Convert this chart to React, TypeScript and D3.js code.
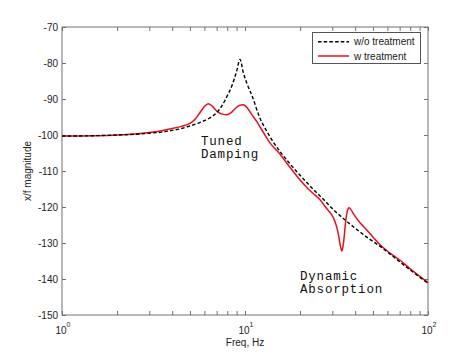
import React, { useEffect, useRef } from 'react';
import * as d3 from 'd3';

// without treatment (dashed black)
const woFreq = [1, 1.5, 2, 2.5, 3, 3.5, 4, 4.5, 5, 5.5, 6, 6.5, 7, 7.5, 8, 8.5, 9, 9.4,
  9.8, 10.3, 11, 12, 13, 14, 15.5, 17.6, 20, 23, 27, 30.5, 34.3, 40, 47, 55, 65, 80, 100];
const woMag = [-100.3, -100.2, -100.0, -99.8, -99.5, -99.2, -98.7, -98.2, -97.5, -96.8, -96.0, -95.1, -93.8, -91.8, -89.1, -86.2, -82.3, -79.0,
  -82.8, -86.0, -89.5, -95.0, -98.5, -101.3, -104.5, -108.0, -111.2, -114.5, -118.0, -120.8, -123.1, -125.9, -128.6, -131.0, -133.9, -137.5, -141.2];

// with treatment (solid red)
const wFreq = [1, 1.5, 2, 2.5, 3, 3.5, 4, 4.5, 5, 5.3, 5.67, 6.0, 6.29, 6.6, 7.0, 7.5, 7.94, 8.4, 8.82, 9.3, 9.77,
  10.3, 10.85, 11.6, 12.6, 13.7, 15.5, 17.5, 20, 21.7, 23.5, 25.7, 28, 30.4, 31.6, 32.5, 33.2, 33.8, 34.3, 34.8,
  35.4, 36.0, 36.6, 37.1, 38, 39.5, 42.4, 46.3, 50, 54.7, 62, 70.4, 80, 100];
const wMag = [-100.3, -100.2, -100.0, -99.7, -99.3, -98.8, -98.2, -97.6, -96.8, -95.8, -93.8, -92.1, -91.3, -91.9, -93.3, -94.2, -94.4, -93.8, -92.7, -91.8, -91.6,
  -92.5, -94.2, -96.3, -99.3, -102.2, -105.3, -108.8, -112.5, -114.5, -116.2, -118.0, -120.5, -123.0, -125.3, -128.0, -130.8, -132.2, -131.0, -128.5,
  -124.5, -121.8, -120.5, -120.2, -120.8, -122.2, -124.3, -126.4, -128.3, -130.5, -132.8, -134.8, -137.2, -141.0];

const yTicks = [-150, -140, -130, -120, -110, -100, -90, -80, -70];
const xMajor = [1, 10, 100];
const seriesNames = ['w/o treatment', 'w treatment'];

function FrfChart() {
  const svgRef = useRef<SVGSVGElement>(null);

  useEffect(() => {
    if (!svgRef.current) return;
    const svg = d3.select(svgRef.current);
    svg.selectAll('*').remove();

    const left = 62, right = 428, top = 27, bottom = 315;
    const axisColor = '#707070';
    const textColor = '#222';
    const sans = '"Liberation Sans", Arial, sans-serif';

    const x = d3.scaleLog().domain([1, 100]).range([left, right]);
    const y = d3.scaleLinear().domain([-150, -70]).range([bottom, top]);

    svg.append('rect').attr('width', 474).attr('height', 354).attr('fill', '#fff');

    // ticks on all four sides, pointing in
    const xt = x.ticks();
    const tickAxis = (g: any, axis: any) => {
      g.call(axis);
      g.select('.domain').remove();
      g.selectAll('.tick line').attr('stroke', axisColor);
    };
    svg.append('g').attr('transform', `translate(0,${bottom})`)
      .call(g => tickAxis(g, d3.axisBottom(x).tickValues(xt).tickSize(-4).tickFormat(() => '')));
    svg.append('g').attr('transform', `translate(0,${top})`)
      .call(g => tickAxis(g, d3.axisTop(x).tickValues(xt).tickSize(-4).tickFormat(() => '')));
    svg.append('g').attr('transform', `translate(${left},0)`)
      .call(g => tickAxis(g, d3.axisLeft(y).tickValues(yTicks).tickSize(-4).tickFormat(() => '')));
    svg.append('g').attr('transform', `translate(${right},0)`)
      .call(g => tickAxis(g, d3.axisRight(y).tickValues(yTicks).tickSize(-4).tickFormat(() => '')));

    svg.append('rect')
      .attr('x', left).attr('y', top)
      .attr('width', right - left).attr('height', bottom - top)
      .attr('fill', 'none').attr('stroke', axisColor).attr('stroke-width', 1);

    // tick labels
    svg.append('g').selectAll('text').data(yTicks).join('text')
      .attr('x', left - 4).attr('y', d => y(d)).attr('dy', '0.35em')
      .attr('text-anchor', 'end').attr('font-family', sans).attr('font-size', 10)
      .attr('fill', textColor).text(d => d);

    const xl = svg.append('g').selectAll('text').data(xMajor).join('text')
      .attr('x', d => x(d) + 1).attr('y', bottom + 18.5)
      .attr('text-anchor', 'middle').attr('font-family', sans).attr('font-size', 10)
      .attr('fill', textColor);
    xl.append('tspan').text('10');
    xl.append('tspan').attr('dy', -7).attr('font-size', 7).text(d => Math.round(Math.log10(d)));

    svg.append('text')
      .attr('x', (left + right) / 2).attr('y', 346)
      .attr('text-anchor', 'middle').attr('font-family', sans).attr('font-size', 10)
      .attr('fill', textColor).text('Freq, Hz');

    svg.append('text')
      .attr('transform', `translate(31,${(top + bottom) / 2}) rotate(-90)`)
      .attr('text-anchor', 'middle').attr('font-family', sans).attr('font-size', 10)
      .attr('fill', textColor).text('x/f magnitude');

    // curves
    const line = d3.line<[number, number]>()
      .x(d => x(d[0]))
      .y(d => y(d[1]))
      .curve(d3.curveMonotoneX);

    const woData = woFreq.map((f, i) => [f, woMag[i]] as [number, number]);
    const wData = wFreq.map((f, i) => [f, wMag[i]] as [number, number]);

    svg.append('path').datum(wData)
      .attr('fill', 'none').attr('stroke', '#e8101a').attr('stroke-width', 1.5)
      .attr('d', line);
    svg.append('path').datum(woData)
      .attr('fill', 'none').attr('stroke', '#000').attr('stroke-width', 1.4)
      .attr('stroke-dasharray', '3.5,2.2')
      .attr('d', line);

    // annotations, one text per line so they don't overlap
    const mono = '"Liberation Mono", "Courier New", monospace';
    const note = (lines: string[], nx: number, ny: number) => {
      lines.forEach((s, i) => svg.append('text')
        .attr('x', nx).attr('y', ny + i * 13.3)
        .attr('font-family', mono).attr('font-size', 12.5)
        .attr('letter-spacing', 0.8)
        .attr('fill', '#111').text(s));
    };
    note(['Tuned', 'Damping'], 201, 145);
    note(['Dynamic', 'Absorption'], 300, 279.5);

    // legend
    const lg = svg.append('g');
    lg.append('rect').attr('x', 312.5).attr('y', 32.5).attr('width', 108).attr('height', 31)
      .attr('fill', '#fff').attr('stroke', '#555');
    const legendY = [41.7, 56];
    lg.append('line').attr('x1', 318).attr('x2', 349).attr('y1', legendY[0]).attr('y2', legendY[0])
      .attr('stroke', '#000').attr('stroke-width', 1.4).attr('stroke-dasharray', '3.5,2.2');
    lg.append('line').attr('x1', 318).attr('x2', 349).attr('y1', legendY[1]).attr('y2', legendY[1])
      .attr('stroke', '#e8101a').attr('stroke-width', 1.5);
    lg.selectAll('text.lbl').data(seriesNames).join('text')
      .attr('class', 'lbl')
      .attr('x', 354).attr('y', (d, i) => legendY[i] + 3.6)
      .attr('font-family', sans).attr('font-size', 10).attr('fill', textColor)
      .text(d => d);
  }, []);

  return <svg ref={svgRef} width={474} height={354} style={{ position: 'absolute', left: 0, top: 0 }} />;
}

export default function App() {
  return <FrfChart />;
}
